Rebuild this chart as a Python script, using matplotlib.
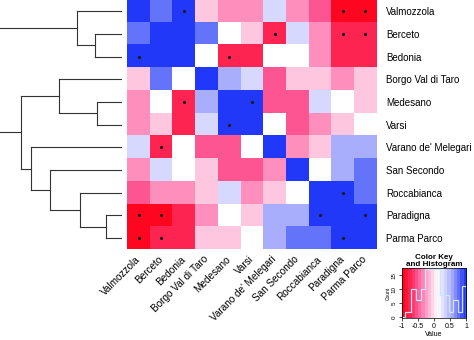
import matplotlib
matplotlib.use('Agg')
import matplotlib.pyplot as plt
import numpy as np
from matplotlib.colors import ListedColormap, BoundaryNorm, LinearSegmentedColormap

plt.rcParams['font.family'] = ['Liberation Sans', 'DejaVu Sans']

# site names (row order = column order)
sites = ['Valmozzola', 'Berceto', 'Bedonia', 'Borgo Val di Taro', 'Medesano', 'Varsi',
         "Varano de' Melegari", 'San Secondo', 'Roccabianca', 'Paradigna', 'Parma Parco']

# cell values
vals = np.array([
    [0.9, 0.7, 0.9, -0.1, -0.3, -0.3, 0.3, -0.3, -0.5, -0.9, -0.9],
    [0.7, 0.9, 0.9, 0.7, 0.1, -0.1, -0.7, 0.3, -0.3, -0.7, -0.7],
    [0.9, 0.9, 0.9, 0.1, -0.7, -0.7, 0.1, 0.1, -0.3, -0.7, -0.7],
    [-0.1, 0.7, 0.1, 0.9, 0.5, 0.3, -0.5, -0.1, -0.1, -0.3, -0.1],
    [-0.3, 0.1, -0.7, 0.5, 0.9, 0.9, -0.5, -0.5, 0.3, 0.1, -0.1],
    [-0.3, -0.1, -0.7, 0.3, 0.9, 0.9, 0.1, -0.5, -0.3, -0.1, 0.1],
    [0.3, -0.7, 0.1, -0.5, -0.5, 0.1, 0.9, -0.3, -0.1, 0.5, 0.5],
    [-0.3, 0.3, 0.1, -0.1, -0.5, -0.5, -0.3, 0.9, 0.1, 0.5, 0.7],
    [-0.5, -0.3, -0.3, -0.1, 0.3, -0.3, -0.1, 0.1, 0.9, 0.9, 0.7],
    [-0.9, -0.9, -0.7, -0.3, 0.1, -0.1, 0.5, 0.5, 0.9, 0.9, 0.9],
    [-0.9, -0.7, -0.7, -0.1, -0.1, 0.1, 0.5, 0.7, 0.7, 0.9, 0.9],
])

# significant cells (row, col)
star_rows = [0, 0, 0, 1, 1, 1, 2, 2, 4, 4, 5, 6, 8, 9, 9, 9, 9, 10, 10, 10]
star_cols = [2, 9, 10, 6, 9, 10, 0, 4, 2, 5, 4, 1, 9, 0, 1, 8, 10, 0, 1, 9]

# row dendrogram merges: (child a, child b, height); leaves 0..10, nodes 11+
merges = [(1, 2, 27), (0, 11, 45.3), (4, 5, 24.7), (3, 13, 63.3), (9, 10, 16.3),
          (8, 15, 41.7), (7, 16, 72), (6, 17, 91.3), (14, 18, 100.7), (12, 19, 140)]

# colour key histogram
hist_edges = [-1, -0.9, -0.72, -0.55, -0.4, -0.28, 0.18, 0.47, 0.6, 0.74, 0.87, 1]
hist_counts = [0, 2, 10, 6, 10, 17, 8, 2, 6, 2, 11]

colors = ['#fe0620', '#fd2452', '#fd5592', '#fe8fbd', '#ffc6df',
          '#ffffff', '#d6d9fd', '#a9aefc', '#6474fa', '#2238f8']
cmap = ListedColormap(colors)
norm = BoundaryNorm(np.linspace(-1, 1, 11), cmap.N)

fig = plt.figure(figsize=(4.74, 3.4), dpi=100)

# heatmap
ax = fig.add_axes([127.3/474, 1-249.3/340, 249.4/474, 249.3/340])
ax.imshow(vals, cmap=cmap, norm=norm, aspect='auto', interpolation='nearest')
ax.plot(star_cols, star_rows, 'o', color='#1a1a1a', ms=2.3, mew=0)
ax.set_xticks(range(len(sites)))
ax.set_xticklabels(sites, rotation=45, ha='right', va='center', rotation_mode='anchor', fontsize=7.2)
ax.set_yticks(range(len(sites)))
ax.set_yticklabels(sites, fontsize=7)
ax.yaxis.tick_right()
ax.tick_params(length=0, pad=7)
ax.tick_params(axis='x', pad=6)
for s in ax.spines.values():
    s.set_visible(False)

# dendrogram
dax = fig.add_axes([0, 1-249.3/340, 122/474, 249.3/340])
ypos = {i: float(i) for i in range(len(sites))}
hgt = {i: 0.0 for i in range(len(sites))}
for k, (a, b, h) in enumerate(merges):
    node = len(sites) + k
    for c in (a, b):
        dax.plot([hgt[c], h], [ypos[c], ypos[c]], color='#333333', lw=0.8)
    dax.plot([h, h], [ypos[a], ypos[b]], color='#333333', lw=0.8)
    ypos[node] = (ypos[a] + ypos[b]) / 2
    hgt[node] = h
dax.set_xlim(122, 0)
dax.set_ylim(len(sites) - 0.5, -0.5)
dax.axis('off')

# colour key
kax = fig.add_axes([401.7/474, 1-317.7/340, 64.3/474, 49.4/340])
keycmap = LinearSegmentedColormap.from_list('key', colors, N=20)
kax.imshow(np.linspace(-1, 1, 200)[None, :], cmap=keycmap, aspect='auto',
           extent=[-1, 1, -0.2, 17.4], interpolation='nearest')
kax.stairs(hist_counts, hist_edges, color='#cfe4f5', lw=0.9)
kax.set_xlim(-1, 1)
kax.set_ylim(-0.2, 17.4)
kax.set_xticks([-1, -0.5, 0, 0.5, 1])
kax.set_xticklabels(['-1', '-0.5', '0', '0.5', '1'], fontsize=5)
kax.set_yticks([0, 5, 10, 15])
kax.set_yticklabels(['0', '5', '10', '15'], fontsize=4.5, rotation=90, va='center')
kax.tick_params(length=2, width=0.5, pad=1.5)
kax.set_xlabel('Value', fontsize=5, labelpad=1)
kax.set_ylabel('Count', fontsize=3.5, labelpad=1)
kax.set_title('Color Key\nand Histogram', fontsize=5.8, fontweight='bold', linespacing=0.95, pad=1.5)
for s in kax.spines.values():
    s.set_linewidth(0.5)

fig.savefig('out.png', dpi=100)
